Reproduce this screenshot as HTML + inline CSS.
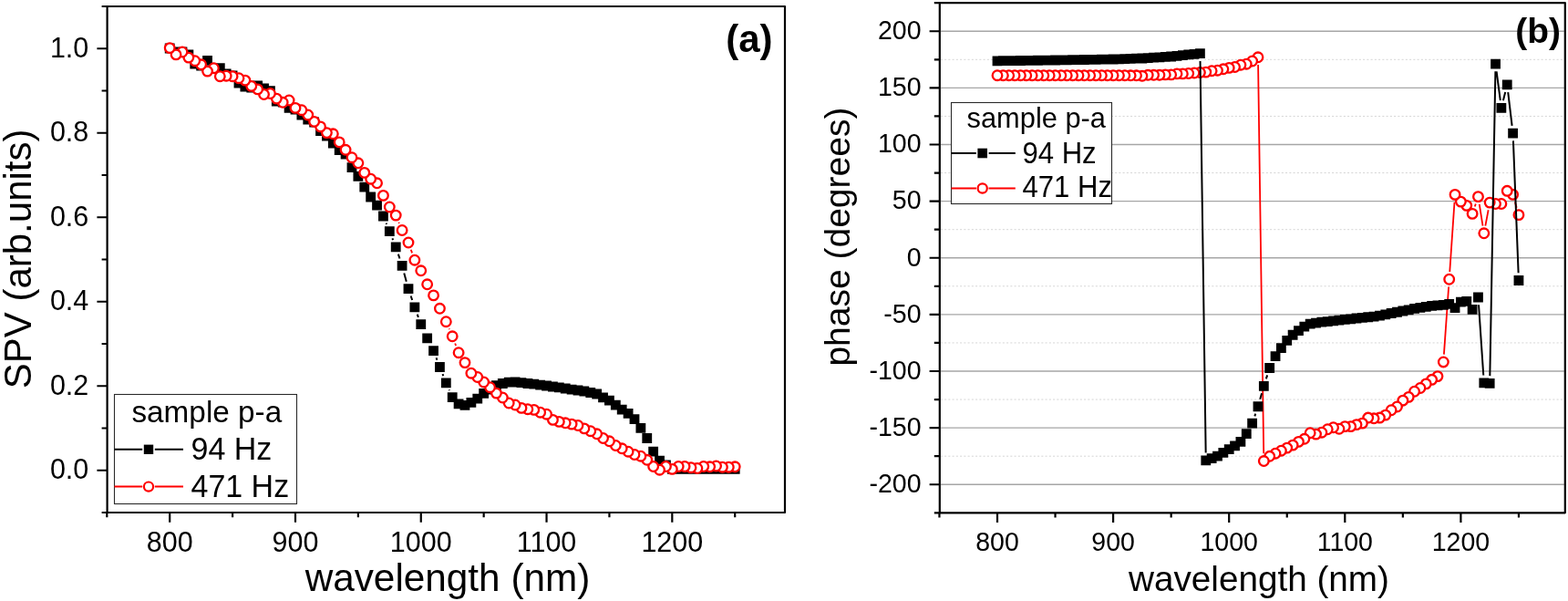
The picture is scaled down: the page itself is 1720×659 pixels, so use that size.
<!DOCTYPE html>
<html><head><meta charset="utf-8"><title>SPV spectra</title>
<style>
html,body{margin:0;padding:0;background:#fff;}
body{width:1720px;height:659px;overflow:hidden;}
svg{display:block;}
text{font-family:"Liberation Sans", Arial, sans-serif;fill:#000;}
</style></head><body>
<svg width="1720" height="659" viewBox="0 0 1720 659">
<rect width="1720" height="659" fill="#fff"/>
<g stroke="#d6d6d6" stroke-width="1" stroke-dasharray="2.1 2.15" fill="none">
<line x1="1031.8" y1="500.19" x2="1715.8" y2="500.19"/><line x1="1031.8" y1="438.06" x2="1715.8" y2="438.06"/><line x1="1031.8" y1="375.94" x2="1715.8" y2="375.94"/><line x1="1031.8" y1="313.81" x2="1715.8" y2="313.81"/><line x1="1031.8" y1="251.69" x2="1715.8" y2="251.69"/><line x1="1031.8" y1="189.56" x2="1715.8" y2="189.56"/><line x1="1031.8" y1="127.44" x2="1715.8" y2="127.44"/><line x1="1031.8" y1="65.31" x2="1715.8" y2="65.31"/>
</g>
<g stroke="#a6a6a6" stroke-width="1.3" fill="none">
<line x1="1031.8" y1="531.25" x2="1715.8" y2="531.25"/><line x1="1031.8" y1="469.12" x2="1715.8" y2="469.12"/><line x1="1031.8" y1="407" x2="1715.8" y2="407"/><line x1="1031.8" y1="344.88" x2="1715.8" y2="344.88"/><line x1="1031.8" y1="282.75" x2="1715.8" y2="282.75"/><line x1="1031.8" y1="220.62" x2="1715.8" y2="220.62"/><line x1="1031.8" y1="158.5" x2="1715.8" y2="158.5"/><line x1="1031.8" y1="96.38" x2="1715.8" y2="96.38"/><line x1="1031.8" y1="34.25" x2="1715.8" y2="34.25"/>
</g>
<path fill="none" stroke="#000" stroke-width="2" d="M423.61 244.67L424.13 245.93M430.4 261.3L431.12 263.1M436.84 278.67L438.46 283.53M443.27 299.41L445.8 308.69M450.67 324.55L452.18 328.95M457.73 344.59L458.9 347.81M478.53 392.44L479.43 394.76M485.5 410.21L486.25 412.09M492.62 427.42L492.91 428.08"/>
<path fill="#000" d="M180.8 47.6h10.8v10.8h-10.8zM187.69 51.6h10.8v10.8h-10.8zM194.58 51.6h10.8v10.8h-10.8zM201.47 54.6h10.8v10.8h-10.8zM208.36 64.6h10.8v10.8h-10.8zM215.24 66.6h10.8v10.8h-10.8zM222.13 60.9h10.8v10.8h-10.8zM229.02 69.6h10.8v10.8h-10.8zM235.91 69.3h10.8v10.8h-10.8zM242.8 75.6h10.8v10.8h-10.8zM249.69 77.6h10.8v10.8h-10.8zM256.58 85.6h10.8v10.8h-10.8zM263.47 89.6h10.8v10.8h-10.8zM270.36 90.6h10.8v10.8h-10.8zM277.25 88.6h10.8v10.8h-10.8zM284.13 91.4h10.8v10.8h-10.8zM291.02 94.3h10.8v10.8h-10.8zM297.91 105.6h10.8v10.8h-10.8zM304.8 106.6h10.8v10.8h-10.8zM311.69 112.9h10.8v10.8h-10.8zM318.58 114.6h10.8v10.8h-10.8zM325.47 120.8h10.8v10.8h-10.8zM332.36 125.6h10.8v10.8h-10.8zM339.25 128.6h10.8v10.8h-10.8zM346.14 138.2h10.8v10.8h-10.8zM353.02 143.6h10.8v10.8h-10.8zM359.91 151.6h10.8v10.8h-10.8zM366.8 159.2h10.8v10.8h-10.8zM373.69 163.6h10.8v10.8h-10.8zM380.58 178.3h10.8v10.8h-10.8zM387.47 187.9h10.8v10.8h-10.8zM394.36 199.7h10.8v10.8h-10.8zM401.25 210.6h10.8v10.8h-10.8zM408.14 219.7h10.8v10.8h-10.8zM415.03 231.6h10.8v10.8h-10.8zM421.91 248.2h10.8v10.8h-10.8zM428.8 265.4h10.8v10.8h-10.8zM435.69 286h10.8v10.8h-10.8zM442.58 311.3h10.8v10.8h-10.8zM449.47 331.4h10.8v10.8h-10.8zM456.36 350.2h10.8v10.8h-10.8zM463.25 365.4h10.8v10.8h-10.8zM470.14 379.3h10.8v10.8h-10.8zM477.03 397.1h10.8v10.8h-10.8zM483.92 414.4h10.8v10.8h-10.8zM490.81 430.3h10.8v10.8h-10.8zM497.69 437.5h10.8v10.8h-10.8zM504.58 438.9h10.8v10.8h-10.8zM511.47 436h10.8v10.8h-10.8zM518.36 431.7h10.8v10.8h-10.8zM525.25 425.9h10.8v10.8h-10.8zM532.14 421.6h10.8v10.8h-10.8zM539.03 417.3h10.8v10.8h-10.8zM545.92 415.1h10.8v10.8h-10.8zM552.81 413.8h10.8v10.8h-10.8zM559.7 413.6h10.8v10.8h-10.8zM566.58 414.2h10.8v10.8h-10.8zM573.47 415.1h10.8v10.8h-10.8zM580.36 415.8h10.8v10.8h-10.8zM587.25 416.8h10.8v10.8h-10.8zM594.14 417.6h10.8v10.8h-10.8zM601.03 418.6h10.8v10.8h-10.8zM607.92 419.4h10.8v10.8h-10.8zM614.81 420.6h10.8v10.8h-10.8zM621.7 421.8h10.8v10.8h-10.8zM628.58 422.6h10.8v10.8h-10.8zM635.47 423.6h10.8v10.8h-10.8zM642.36 425.1h10.8v10.8h-10.8zM649.25 426.6h10.8v10.8h-10.8zM656.14 430.5h10.8v10.8h-10.8zM663.03 433.8h10.8v10.8h-10.8zM669.92 438.8h10.8v10.8h-10.8zM676.81 443.8h10.8v10.8h-10.8zM683.7 448h10.8v10.8h-10.8zM690.59 454.3h10.8v10.8h-10.8zM697.48 463.9h10.8v10.8h-10.8zM704.36 475.1h10.8v10.8h-10.8zM711.25 489.8h10.8v10.8h-10.8zM718.14 499.8h10.8v10.8h-10.8zM725.03 504.6h10.8v10.8h-10.8zM731.92 509h10.8v10.8h-10.8zM738.81 509h10.8v10.8h-10.8zM745.7 509h10.8v10.8h-10.8zM752.59 509h10.8v10.8h-10.8zM759.48 509h10.8v10.8h-10.8zM766.36 509h10.8v10.8h-10.8zM773.25 509h10.8v10.8h-10.8zM780.14 509h10.8v10.8h-10.8zM787.03 509h10.8v10.8h-10.8zM793.92 509h10.8v10.8h-10.8zM800.81 509h10.8v10.8h-10.8z"/>
<path fill="none" stroke="#f00" stroke-width="1.8" d="M437.42 243.75L437.88 244.85M450.79 273.81L452.07 277.39M492.58 360.33L492.94 361.17M499.19 376.55L500.11 378.95"/>
<g fill="#fff" stroke="#f00" stroke-width="2.3">
<circle cx="806.21" cy="511.8" r="5.3"/>
<circle cx="799.32" cy="512.2" r="5.3"/>
<circle cx="792.43" cy="512.2" r="5.3"/>
<circle cx="785.54" cy="511" r="5.3"/>
<circle cx="778.65" cy="511.8" r="5.3"/>
<circle cx="771.76" cy="511.5" r="5.3"/>
<circle cx="764.88" cy="513.5" r="5.3"/>
<circle cx="757.99" cy="512.7" r="5.3"/>
<circle cx="751.1" cy="511.5" r="5.3"/>
<circle cx="744.21" cy="511.5" r="5.3"/>
<circle cx="737.32" cy="514.4" r="5.3"/>
<circle cx="730.43" cy="511.5" r="5.3"/>
<circle cx="723.54" cy="515.2" r="5.3"/>
<circle cx="716.65" cy="511.5" r="5.3"/>
<circle cx="709.76" cy="504.3" r="5.3"/>
<circle cx="702.88" cy="500.2" r="5.3"/>
<circle cx="695.99" cy="498.5" r="5.3"/>
<circle cx="689.1" cy="495.2" r="5.3"/>
<circle cx="682.21" cy="491.8" r="5.3"/>
<circle cx="675.32" cy="488.5" r="5.3"/>
<circle cx="668.43" cy="483.8" r="5.3"/>
<circle cx="661.54" cy="480.5" r="5.3"/>
<circle cx="654.65" cy="475.8" r="5.3"/>
<circle cx="647.76" cy="472.7" r="5.3"/>
<circle cx="640.87" cy="469.9" r="5.3"/>
<circle cx="633.98" cy="466.5" r="5.3"/>
<circle cx="627.1" cy="465.1" r="5.3"/>
<circle cx="620.21" cy="463.8" r="5.3"/>
<circle cx="613.32" cy="462.4" r="5.3"/>
<circle cx="606.43" cy="460.4" r="5.3"/>
<circle cx="599.54" cy="454.2" r="5.3"/>
<circle cx="592.65" cy="452.2" r="5.3"/>
<circle cx="585.76" cy="449.4" r="5.3"/>
<circle cx="578.87" cy="448.7" r="5.3"/>
<circle cx="571.98" cy="447.4" r="5.3"/>
<circle cx="565.1" cy="444" r="5.3"/>
<circle cx="558.21" cy="442" r="5.3"/>
<circle cx="551.32" cy="436" r="5.3"/>
<circle cx="544.43" cy="431.1" r="5.3"/>
<circle cx="537.54" cy="424.7" r="5.3"/>
<circle cx="530.65" cy="419" r="5.3"/>
<circle cx="523.76" cy="413.5" r="5.3"/>
<circle cx="516.87" cy="409.2" r="5.3"/>
<circle cx="509.98" cy="397.6" r="5.3"/>
<circle cx="503.09" cy="386.7" r="5.3"/>
<circle cx="496.2" cy="368.8" r="5.3"/>
<circle cx="489.32" cy="352.7" r="5.3"/>
<circle cx="482.43" cy="338.3" r="5.3"/>
<circle cx="475.54" cy="323.9" r="5.3"/>
<circle cx="468.65" cy="311.8" r="5.3"/>
<circle cx="461.76" cy="296.8" r="5.3"/>
<circle cx="454.87" cy="285.2" r="5.3"/>
<circle cx="447.98" cy="266" r="5.3"/>
<circle cx="441.09" cy="252.5" r="5.3"/>
<circle cx="434.2" cy="236.1" r="5.3"/>
<circle cx="427.31" cy="227" r="5.3"/>
<circle cx="420.43" cy="214.4" r="5.3"/>
<circle cx="413.54" cy="200.8" r="5.3"/>
<circle cx="406.65" cy="196.2" r="5.3"/>
<circle cx="399.76" cy="189.4" r="5.3"/>
<circle cx="392.87" cy="178.8" r="5.3"/>
<circle cx="385.98" cy="172.7" r="5.3"/>
<circle cx="379.09" cy="164.3" r="5.3"/>
<circle cx="372.2" cy="155.9" r="5.3"/>
<circle cx="365.31" cy="146.8" r="5.3"/>
<circle cx="358.42" cy="145.6" r="5.3"/>
<circle cx="351.54" cy="138.9" r="5.3"/>
<circle cx="344.65" cy="133.4" r="5.3"/>
<circle cx="337.76" cy="126" r="5.3"/>
<circle cx="330.87" cy="120.7" r="5.3"/>
<circle cx="323.98" cy="118.4" r="5.3"/>
<circle cx="317.09" cy="110" r="5.3"/>
<circle cx="310.2" cy="112.3" r="5.3"/>
<circle cx="303.31" cy="108.1" r="5.3"/>
<circle cx="296.42" cy="102.5" r="5.3"/>
<circle cx="289.53" cy="103.5" r="5.3"/>
<circle cx="282.65" cy="97.9" r="5.3"/>
<circle cx="275.76" cy="94.4" r="5.3"/>
<circle cx="268.87" cy="88.1" r="5.3"/>
<circle cx="261.98" cy="85.7" r="5.3"/>
<circle cx="255.09" cy="83.7" r="5.3"/>
<circle cx="248.2" cy="83.2" r="5.3"/>
<circle cx="241.31" cy="83.7" r="5.3"/>
<circle cx="234.42" cy="74.7" r="5.3"/>
<circle cx="227.53" cy="78.1" r="5.3"/>
<circle cx="220.64" cy="70.8" r="5.3"/>
<circle cx="213.76" cy="66.7" r="5.3"/>
<circle cx="206.87" cy="63.1" r="5.3"/>
<circle cx="199.98" cy="57" r="5.3"/>
<circle cx="193.09" cy="59.9" r="5.3"/>
<circle cx="186.2" cy="52.6" r="5.3"/>
</g>
<path fill="none" stroke="#f00" stroke-width="1.8" d="M1380.09 71.1L1386.21 497.23M1583.92 388.66L1589.11 314.51M1590.26 297.95L1595.48 221.7M1617.77 226.56L1618.8 223.52M1622.76 223.85L1626.52 247.59M1629.36 247.63L1632.64 230.27M1661.88 221.4L1663.67 227.68"/>
<g fill="#fff" stroke="#f00" stroke-width="2.3">
<circle cx="1665.95" cy="235.66" r="5.3"/>
<circle cx="1659.59" cy="213.42" r="5.3"/>
<circle cx="1653.24" cy="209.32" r="5.3"/>
<circle cx="1646.88" cy="223.48" r="5.3"/>
<circle cx="1640.53" cy="223.48" r="5.3"/>
<circle cx="1634.17" cy="222.12" r="5.3"/>
<circle cx="1627.82" cy="255.79" r="5.3"/>
<circle cx="1621.46" cy="215.66" r="5.3"/>
<circle cx="1615.11" cy="234.42" r="5.3"/>
<circle cx="1608.76" cy="225.35" r="5.3"/>
<circle cx="1602.4" cy="221.12" r="5.3"/>
<circle cx="1596.05" cy="213.42" r="5.3"/>
<circle cx="1589.69" cy="306.23" r="5.3"/>
<circle cx="1583.34" cy="396.94" r="5.3"/>
<circle cx="1576.98" cy="412.59" r="5.3"/>
<circle cx="1570.62" cy="416.32" r="5.3"/>
<circle cx="1564.27" cy="420.92" r="5.3"/>
<circle cx="1557.91" cy="425.51" r="5.3"/>
<circle cx="1551.56" cy="429.24" r="5.3"/>
<circle cx="1545.2" cy="435.33" r="5.3"/>
<circle cx="1538.85" cy="439.18" r="5.3"/>
<circle cx="1532.49" cy="446.01" r="5.3"/>
<circle cx="1526.14" cy="449.74" r="5.3"/>
<circle cx="1519.78" cy="455.08" r="5.3"/>
<circle cx="1513.43" cy="458.07" r="5.3"/>
<circle cx="1507.08" cy="458.81" r="5.3"/>
<circle cx="1500.72" cy="458.07" r="5.3"/>
<circle cx="1494.37" cy="464.15" r="5.3"/>
<circle cx="1488.01" cy="465.65" r="5.3"/>
<circle cx="1481.65" cy="467.63" r="5.3"/>
<circle cx="1475.3" cy="467.63" r="5.3"/>
<circle cx="1468.94" cy="470.24" r="5.3"/>
<circle cx="1462.59" cy="468.75" r="5.3"/>
<circle cx="1456.23" cy="470.74" r="5.3"/>
<circle cx="1449.88" cy="474.22" r="5.3"/>
<circle cx="1443.53" cy="476.08" r="5.3"/>
<circle cx="1437.17" cy="474.72" r="5.3"/>
<circle cx="1430.82" cy="481.3" r="5.3"/>
<circle cx="1424.46" cy="484.41" r="5.3"/>
<circle cx="1418.11" cy="488.14" r="5.3"/>
<circle cx="1411.75" cy="491.12" r="5.3"/>
<circle cx="1405.39" cy="494.22" r="5.3"/>
<circle cx="1399.04" cy="497.21" r="5.3"/>
<circle cx="1392.68" cy="500.31" r="5.3"/>
<circle cx="1386.33" cy="505.53" r="5.3"/>
<circle cx="1379.97" cy="62.8" r="5.3"/>
<circle cx="1373.62" cy="67" r="5.3"/>
<circle cx="1367.26" cy="70.2" r="5.3"/>
<circle cx="1360.91" cy="71.2" r="5.3"/>
<circle cx="1354.56" cy="73.5" r="5.3"/>
<circle cx="1348.2" cy="74.4" r="5.3"/>
<circle cx="1341.85" cy="75.8" r="5.3"/>
<circle cx="1335.49" cy="77.2" r="5.3"/>
<circle cx="1329.13" cy="77.7" r="5.3"/>
<circle cx="1322.78" cy="79.1" r="5.3"/>
<circle cx="1316.42" cy="79.5" r="5.3"/>
<circle cx="1310.07" cy="80" r="5.3"/>
<circle cx="1303.71" cy="80.5" r="5.3"/>
<circle cx="1297.36" cy="80.9" r="5.3"/>
<circle cx="1291.01" cy="80.9" r="5.3"/>
<circle cx="1284.65" cy="81.9" r="5.3"/>
<circle cx="1278.3" cy="81.9" r="5.3"/>
<circle cx="1271.94" cy="82.3" r="5.3"/>
<circle cx="1265.59" cy="82.3" r="5.3"/>
<circle cx="1259.23" cy="82.3" r="5.3"/>
<circle cx="1252.88" cy="83.3" r="5.3"/>
<circle cx="1246.52" cy="82.8" r="5.3"/>
<circle cx="1240.16" cy="82.8" r="5.3"/>
<circle cx="1233.81" cy="82.7" r="5.3"/>
<circle cx="1227.45" cy="82.7" r="5.3"/>
<circle cx="1221.1" cy="82.7" r="5.3"/>
<circle cx="1214.74" cy="82.7" r="5.3"/>
<circle cx="1208.39" cy="82.7" r="5.3"/>
<circle cx="1202.04" cy="82.7" r="5.3"/>
<circle cx="1195.68" cy="82.7" r="5.3"/>
<circle cx="1189.33" cy="82.7" r="5.3"/>
<circle cx="1182.97" cy="82.7" r="5.3"/>
<circle cx="1176.62" cy="82.7" r="5.3"/>
<circle cx="1170.26" cy="82.7" r="5.3"/>
<circle cx="1163.9" cy="82.7" r="5.3"/>
<circle cx="1157.55" cy="82.7" r="5.3"/>
<circle cx="1151.19" cy="82.7" r="5.3"/>
<circle cx="1144.84" cy="82.7" r="5.3"/>
<circle cx="1138.48" cy="82.7" r="5.3"/>
<circle cx="1132.13" cy="82.7" r="5.3"/>
<circle cx="1125.78" cy="82.7" r="5.3"/>
<circle cx="1119.42" cy="82.7" r="5.3"/>
<circle cx="1113.07" cy="82.7" r="5.3"/>
<circle cx="1106.71" cy="82.7" r="5.3"/>
<circle cx="1100.36" cy="82.7" r="5.3"/>
<circle cx="1094" cy="82.7" r="5.3"/>
</g>
<path fill="none" stroke="#000" stroke-width="2" d="M1316.54 66.9L1322.66 496.49M1376.33 456.31L1377.26 453.61M1382.23 437.78L1384.07 431.26M1388.87 415.38L1390.14 411.42M1622.03 334.27L1627.26 411.52M1634.33 412.12L1640.38 78.33M1641.61 78.26L1645.8 110.14M1648.89 110.31L1651.23 100.95M1654.22 101.14L1658.61 137.83M1659.92 154.37L1665.62 299.18"/>
<path fill="#000" d="M1088.6 61.4h10.8v10.8h-10.8zM1094.95 61.32h10.8v10.8h-10.8zM1101.31 61.24h10.8v10.8h-10.8zM1107.66 61.16h10.8v10.8h-10.8zM1114.02 61.08h10.8v10.8h-10.8zM1120.38 61h10.8v10.8h-10.8zM1126.73 60.92h10.8v10.8h-10.8zM1133.08 60.84h10.8v10.8h-10.8zM1139.44 60.76h10.8v10.8h-10.8zM1145.79 60.68h10.8v10.8h-10.8zM1152.15 60.6h10.8v10.8h-10.8zM1158.5 60.5h10.8v10.8h-10.8zM1164.86 60.4h10.8v10.8h-10.8zM1171.21 60.3h10.8v10.8h-10.8zM1177.57 60.2h10.8v10.8h-10.8zM1183.92 60.1h10.8v10.8h-10.8zM1190.28 60h10.8v10.8h-10.8zM1196.63 59.9h10.8v10.8h-10.8zM1202.99 59.8h10.8v10.8h-10.8zM1209.34 59.7h10.8v10.8h-10.8zM1215.7 59.6h10.8v10.8h-10.8zM1222.05 59.4h10.8v10.8h-10.8zM1228.41 59.2h10.8v10.8h-10.8zM1234.76 59h10.8v10.8h-10.8zM1241.12 58.8h10.8v10.8h-10.8zM1247.47 58.6h10.8v10.8h-10.8zM1253.83 58.2h10.8v10.8h-10.8zM1260.18 57.8h10.8v10.8h-10.8zM1266.54 57.4h10.8v10.8h-10.8zM1272.89 57h10.8v10.8h-10.8zM1279.25 56.6h10.8v10.8h-10.8zM1285.61 55.92h10.8v10.8h-10.8zM1291.96 55.24h10.8v10.8h-10.8zM1298.31 54.56h10.8v10.8h-10.8zM1304.67 53.88h10.8v10.8h-10.8zM1311.02 53.2h10.8v10.8h-10.8zM1317.38 499.38h10.8v10.8h-10.8zM1323.73 497.15h10.8v10.8h-10.8zM1330.09 494.79h10.8v10.8h-10.8zM1336.44 491.06h10.8v10.8h-10.8zM1342.8 487.21h10.8v10.8h-10.8zM1349.15 483.48h10.8v10.8h-10.8zM1355.51 479.01h10.8v10.8h-10.8zM1361.86 470.31h10.8v10.8h-10.8zM1368.22 458.75h10.8v10.8h-10.8zM1374.57 440.37h10.8v10.8h-10.8zM1380.93 417.88h10.8v10.8h-10.8zM1387.28 398.12h10.8v10.8h-10.8zM1393.64 385.32h10.8v10.8h-10.8zM1399.99 376.25h10.8v10.8h-10.8zM1406.35 368.05h10.8v10.8h-10.8zM1412.7 361.84h10.8v10.8h-10.8zM1419.06 357.24h10.8v10.8h-10.8zM1425.41 352.77h10.8v10.8h-10.8zM1431.77 349.66h10.8v10.8h-10.8zM1438.12 348.79h10.8v10.8h-10.8zM1444.48 347.8h10.8v10.8h-10.8zM1450.83 347.18h10.8v10.8h-10.8zM1457.19 346.43h10.8v10.8h-10.8zM1463.54 345.81h10.8v10.8h-10.8zM1469.9 345.07h10.8v10.8h-10.8zM1476.25 344.45h10.8v10.8h-10.8zM1482.61 343.58h10.8v10.8h-10.8zM1488.96 342.95h10.8v10.8h-10.8zM1495.32 342.33h10.8v10.8h-10.8zM1501.67 341.71h10.8v10.8h-10.8zM1508.03 340.72h10.8v10.8h-10.8zM1514.38 339.48h10.8v10.8h-10.8zM1520.74 338.11h10.8v10.8h-10.8zM1527.09 336.87h10.8v10.8h-10.8zM1533.45 335.62h10.8v10.8h-10.8zM1539.8 334.38h10.8v10.8h-10.8zM1546.16 333.01h10.8v10.8h-10.8zM1552.51 331.9h10.8v10.8h-10.8zM1558.87 331.03h10.8v10.8h-10.8zM1565.22 330.03h10.8v10.8h-10.8zM1571.58 329.41h10.8v10.8h-10.8zM1577.93 328.91h10.8v10.8h-10.8zM1584.29 328.04h10.8v10.8h-10.8zM1590.64 332.14h10.8v10.8h-10.8zM1597 325.81h10.8v10.8h-10.8zM1603.36 325.06h10.8v10.8h-10.8zM1609.71 333.88h10.8v10.8h-10.8zM1616.06 320.59h10.8v10.8h-10.8zM1622.42 414.4h10.8v10.8h-10.8zM1628.77 415.02h10.8v10.8h-10.8zM1635.13 64.63h10.8v10.8h-10.8zM1641.48 112.97h10.8v10.8h-10.8zM1647.84 87.5h10.8v10.8h-10.8zM1654.19 140.68h10.8v10.8h-10.8zM1660.55 302.08h10.8v10.8h-10.8z"/>
<g stroke="#000" stroke-width="2.2" fill="none" stroke-linecap="square">
<path d="M117.6 7H861V562H117.6Z" stroke-linejoin="round"/>
<path stroke-linecap="butt" d="M186.2 562V572.8M323.98 562V572.8M461.76 562V572.8M599.54 562V572.8M737.32 562V572.8M117.31 562V567.2M255.09 562V567.2M392.87 562V567.2M530.65 562V567.2M668.43 562V567.2M806.21 562V567.2M117.6 515.75H106.4M117.6 423.25H106.4M117.6 330.75H106.4M117.6 238.25H106.4M117.6 145.75H106.4M117.6 53.25H106.4M117.6 562H111.6M117.6 469.5H111.6M117.6 377H111.6M117.6 284.5H111.6M117.6 192H111.6M117.6 99.5H111.6M117.6 7H111.6"/>
</g>
<g stroke="#000" stroke-width="2.2" fill="none" stroke-linecap="square">
<path d="M1030.8 3.19H1716.8V562.31H1030.8Z" stroke-linejoin="round"/>
<path stroke-linecap="butt" d="M1094 562.31V573.11M1221.1 562.31V573.11M1348.2 562.31V573.11M1475.3 562.31V573.11M1602.4 562.31V573.11M1030.45 562.31V567.51M1157.55 562.31V567.51M1284.65 562.31V567.51M1411.75 562.31V567.51M1538.85 562.31V567.51M1665.95 562.31V567.51M1030.8 531.25H1019.6M1030.8 469.12H1019.6M1030.8 407H1019.6M1030.8 344.88H1019.6M1030.8 282.75H1019.6M1030.8 220.62H1019.6M1030.8 158.5H1019.6M1030.8 96.38H1019.6M1030.8 34.25H1019.6M1030.8 562.31H1024.8M1030.8 500.19H1024.8M1030.8 438.06H1024.8M1030.8 375.94H1024.8M1030.8 313.81H1024.8M1030.8 251.69H1024.8M1030.8 189.56H1024.8M1030.8 127.44H1024.8M1030.8 65.31H1024.8M1030.8 3.19H1024.8"/>
</g>
<text transform="translate(97.3 525.15) scale(1 1.04)" font-size="30.5" text-anchor="end">0.0</text><text transform="translate(97.3 432.65) scale(1 1.04)" font-size="30.5" text-anchor="end">0.2</text><text transform="translate(97.3 340.15) scale(1 1.04)" font-size="30.5" text-anchor="end">0.4</text><text transform="translate(97.3 247.65) scale(1 1.04)" font-size="30.5" text-anchor="end">0.6</text><text transform="translate(97.3 155.15) scale(1 1.04)" font-size="30.5" text-anchor="end">0.8</text><text transform="translate(97.3 62.65) scale(1 1.04)" font-size="30.5" text-anchor="end">1.0</text>
<text transform="translate(186.2 604.8) scale(1 1.04)" font-size="30.5" text-anchor="middle">800</text><text transform="translate(323.98 604.8) scale(1 1.04)" font-size="30.5" text-anchor="middle">900</text><text transform="translate(461.76 604.8) scale(1 1.04)" font-size="30.5" text-anchor="middle">1000</text><text transform="translate(599.54 604.8) scale(1 1.04)" font-size="30.5" text-anchor="middle">1100</text><text transform="translate(737.32 604.8) scale(1 1.04)" font-size="30.5" text-anchor="middle">1200</text>
<text transform="translate(1010.5 540.05) scale(1 1.06)" font-size="28.5" text-anchor="end">-200</text><text transform="translate(1010.5 477.93) scale(1 1.06)" font-size="28.5" text-anchor="end">-150</text><text transform="translate(1010.5 415.8) scale(1 1.06)" font-size="28.5" text-anchor="end">-100</text><text transform="translate(1010.5 353.68) scale(1 1.06)" font-size="28.5" text-anchor="end">-50</text><text transform="translate(1010.5 291.55) scale(1 1.06)" font-size="28.5" text-anchor="end">0</text><text transform="translate(1010.5 229.43) scale(1 1.06)" font-size="28.5" text-anchor="end">50</text><text transform="translate(1010.5 167.3) scale(1 1.06)" font-size="28.5" text-anchor="end">100</text><text transform="translate(1010.5 105.17) scale(1 1.06)" font-size="28.5" text-anchor="end">150</text><text transform="translate(1010.5 43.05) scale(1 1.06)" font-size="28.5" text-anchor="end">200</text>
<text transform="translate(1094 604.3) scale(1 1.06)" font-size="28.5" text-anchor="middle">800</text><text transform="translate(1221.1 604.3) scale(1 1.06)" font-size="28.5" text-anchor="middle">900</text><text transform="translate(1348.2 604.3) scale(1 1.06)" font-size="28.5" text-anchor="middle">1000</text><text transform="translate(1475.3 604.3) scale(1 1.06)" font-size="28.5" text-anchor="middle">1100</text><text transform="translate(1602.4 604.3) scale(1 1.06)" font-size="28.5" text-anchor="middle">1200</text>
<text x="491" y="647.5" font-size="42.3" text-anchor="middle">wavelength (nm)</text>
<text x="1381" y="648" font-size="38.7" text-anchor="middle">wavelength (nm)</text>
<text transform="translate(34.3 283.9) rotate(-90)" font-size="42" text-anchor="middle">SPV (arb.units)</text>
<text transform="translate(931.8 259.6) rotate(-90)" font-size="39" text-anchor="middle">phase (degrees)</text>
<text x="847.5" y="57" font-size="42" font-weight="bold" text-anchor="end">(a)</text>
<text x="1712" y="46.5" font-size="39" font-weight="bold" text-anchor="end">(b)</text>
<rect x="125.5" y="432.5" width="200" height="120" fill="#fff" stroke="#2a2a2a" stroke-width="1.1"/>
<g font-size="33"><text transform="translate(144.4 462.7) scale(1.01 1)">sample p-a</text><text transform="translate(209.5 504) scale(1.03 1.07)">94 Hz</text><text transform="translate(209.5 545) scale(1.03 1.07)">471 Hz</text></g>
<path stroke="#000" stroke-width="2" d="M125.5 492.8H156.2M169.8 492.8H201"/>
<rect x="157.8" y="487.6" width="10.4" height="10.4" fill="#000"/>
<path stroke="#f00" stroke-width="2" d="M125.5 533.6H156.2M169.8 533.6H201"/>
<circle cx="163" cy="533.6" r="5.1" fill="#fff" stroke="#f00" stroke-width="2.2"/>
<rect x="1043.5" y="112.5" width="176" height="111" fill="#fff" stroke="#2a2a2a" stroke-width="1.1"/>
<g font-size="30.5"><text transform="translate(1060.6 140.4) scale(1.01 1)">sample p-a</text><text transform="translate(1121.4 178.9) scale(1.02 1.07)">94 Hz</text><text transform="translate(1121.4 216.4) scale(1.02 1.07)">471 Hz</text></g>
<path stroke="#000" stroke-width="2" d="M1043.5 168H1070.8M1084.6 168H1113.8"/>
<rect x="1072.4" y="162.7" width="10.6" height="10.6" fill="#000"/>
<path stroke="#f00" stroke-width="2" d="M1043.5 206.5H1070.9M1084.5 206.5H1113.8"/>
<circle cx="1077.7" cy="206.5" r="5.1" fill="#fff" stroke="#f00" stroke-width="2.2"/>
</svg>
</body></html>
